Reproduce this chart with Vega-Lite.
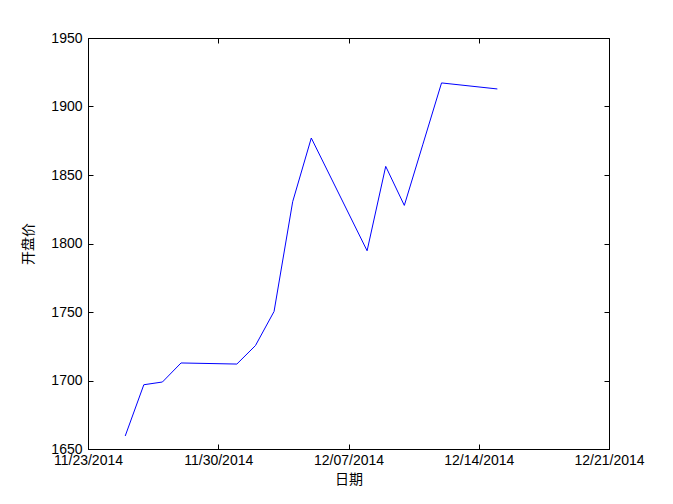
{
  "$schema": "https://vega.github.io/schema/vega-lite/v6.json",
  "width": 521,
  "height": 411,
  "autosize": {"type": "none"},
  "padding": {"left": 88, "top": 38, "right": 64, "bottom": 55},
  "background": "white",
  "config": {
    "view": {"stroke": "black", "strokeWidth": 1},
    "axis": {
      "grid": false,
      "domainColor": "black",
      "tickColor": "black",
      "labelColor": "black",
      "titleColor": "black",
      "labelFont": "Liberation Sans",
      "labelFontSize": 14,
      "titleFont": "Noto Sans CJK SC",
      "titleFontSize": 14,
      "titleFontWeight": "normal",
      "tickSize": -5,
      "labelFlush": false,
      "labelOverlap": false
    }
  },
  "data": {
    "values": [
      {"date": "2014-11-25", "open": 1659.5},
      {"date": "2014-11-26", "open": 1696.9},
      {"date": "2014-11-27", "open": 1698.9},
      {"date": "2014-11-28", "open": 1712.8},
      {"date": "2014-12-01", "open": 1712.0},
      {"date": "2014-12-02", "open": 1725.5},
      {"date": "2014-12-03", "open": 1750.4},
      {"date": "2014-12-04", "open": 1830.5},
      {"date": "2014-12-05", "open": 1877.0},
      {"date": "2014-12-08", "open": 1794.7},
      {"date": "2014-12-09", "open": 1856.3},
      {"date": "2014-12-10", "open": 1827.8},
      {"date": "2014-12-11", "open": 1872.5},
      {"date": "2014-12-12", "open": 1917.2},
      {"date": "2014-12-15", "open": 1912.8}
    ]
  },
  "layer": [
    {
      "mark": {"type": "line", "color": "#0000ff", "strokeWidth": 1},
      "encoding": {
        "x": {
          "field": "date",
          "type": "temporal",
          "scale": {
            "type": "utc",
            "domain": [
              {"year": 2014, "month": 11, "date": 23, "utc": true},
              {"year": 2014, "month": 12, "date": 21, "utc": true}
            ]
          },
          "axis": {
            "title": "日期",
            "format": "%m/%d/%Y",
            "labelPadding": 9,
            "titlePadding": 5,
            "values": [
              {"year": 2014, "month": 11, "date": 23, "utc": true},
              {"year": 2014, "month": 11, "date": 30, "utc": true},
              {"year": 2014, "month": 12, "date": 7, "utc": true},
              {"year": 2014, "month": 12, "date": 14, "utc": true},
              {"year": 2014, "month": 12, "date": 21, "utc": true}
            ]
          }
        },
        "y": {
          "field": "open",
          "type": "quantitative",
          "scale": {"domain": [1650, 1950], "nice": false, "zero": false},
          "axis": {
            "title": "开盘价",
            "format": "d",
            "values": [1650, 1700, 1750, 1800, 1850, 1900, 1950],
            "labelPadding": 11,
            "titlePadding": 15
          }
        }
      }
    },
    {
      "mark": {"type": "line", "opacity": 0},
      "encoding": {
        "x": {
          "field": "date",
          "type": "temporal",
          "scale": {"type": "utc"},
          "axis": {
            "orient": "top",
            "title": null,
            "labels": false,
            "domain": false,
            "values": [
              {"year": 2014, "month": 11, "date": 23, "utc": true},
              {"year": 2014, "month": 11, "date": 30, "utc": true},
              {"year": 2014, "month": 12, "date": 7, "utc": true},
              {"year": 2014, "month": 12, "date": 14, "utc": true},
              {"year": 2014, "month": 12, "date": 21, "utc": true}
            ]
          }
        },
        "y": {
          "field": "open",
          "type": "quantitative",
          "axis": {
            "orient": "right",
            "title": null,
            "labels": false,
            "domain": false,
            "values": [1650, 1700, 1750, 1800, 1850, 1900, 1950]
          }
        }
      }
    }
  ],
  "resolve": {"axis": {"x": "independent", "y": "independent"}}
}
